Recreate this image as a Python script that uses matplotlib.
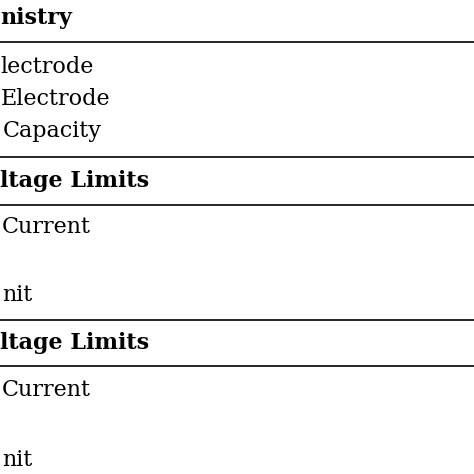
import matplotlib.pyplot as plt

# visible fragments of a cropped table
texts = ['nistry', 'lectrode', 'Electrode', 'Capacity', 'ltage Limits',
         'Current', 'nit', 'ltage Limits', 'Current', 'nit']
text_y = [18, 67, 99, 131, 181, 227, 295, 343, 390, 460]
text_x = [0, 0, 1, 3, 0, 2, 2, 0, 2, 2]
bold = [True, False, False, False, True, False, False, True, False, False]
rule_y = [42, 157, 205, 320, 366]

fig = plt.figure(figsize=(4.74, 4.74), dpi=100)
ax = fig.add_axes([0, 0, 1, 1])
ax.set_xlim(0, 474)
ax.set_ylim(474, 0)
ax.axis('off')

for t, x, y, b in zip(texts, text_x, text_y, bold):
    ax.text(x, y, t, fontsize=16, family='DejaVu Serif',
            fontweight='bold' if b else 'normal', va='center', ha='left')

for y in rule_y:
    ax.axhline(y, color='black', lw=1.2)

fig.savefig('out.png', dpi=100, facecolor='white')
